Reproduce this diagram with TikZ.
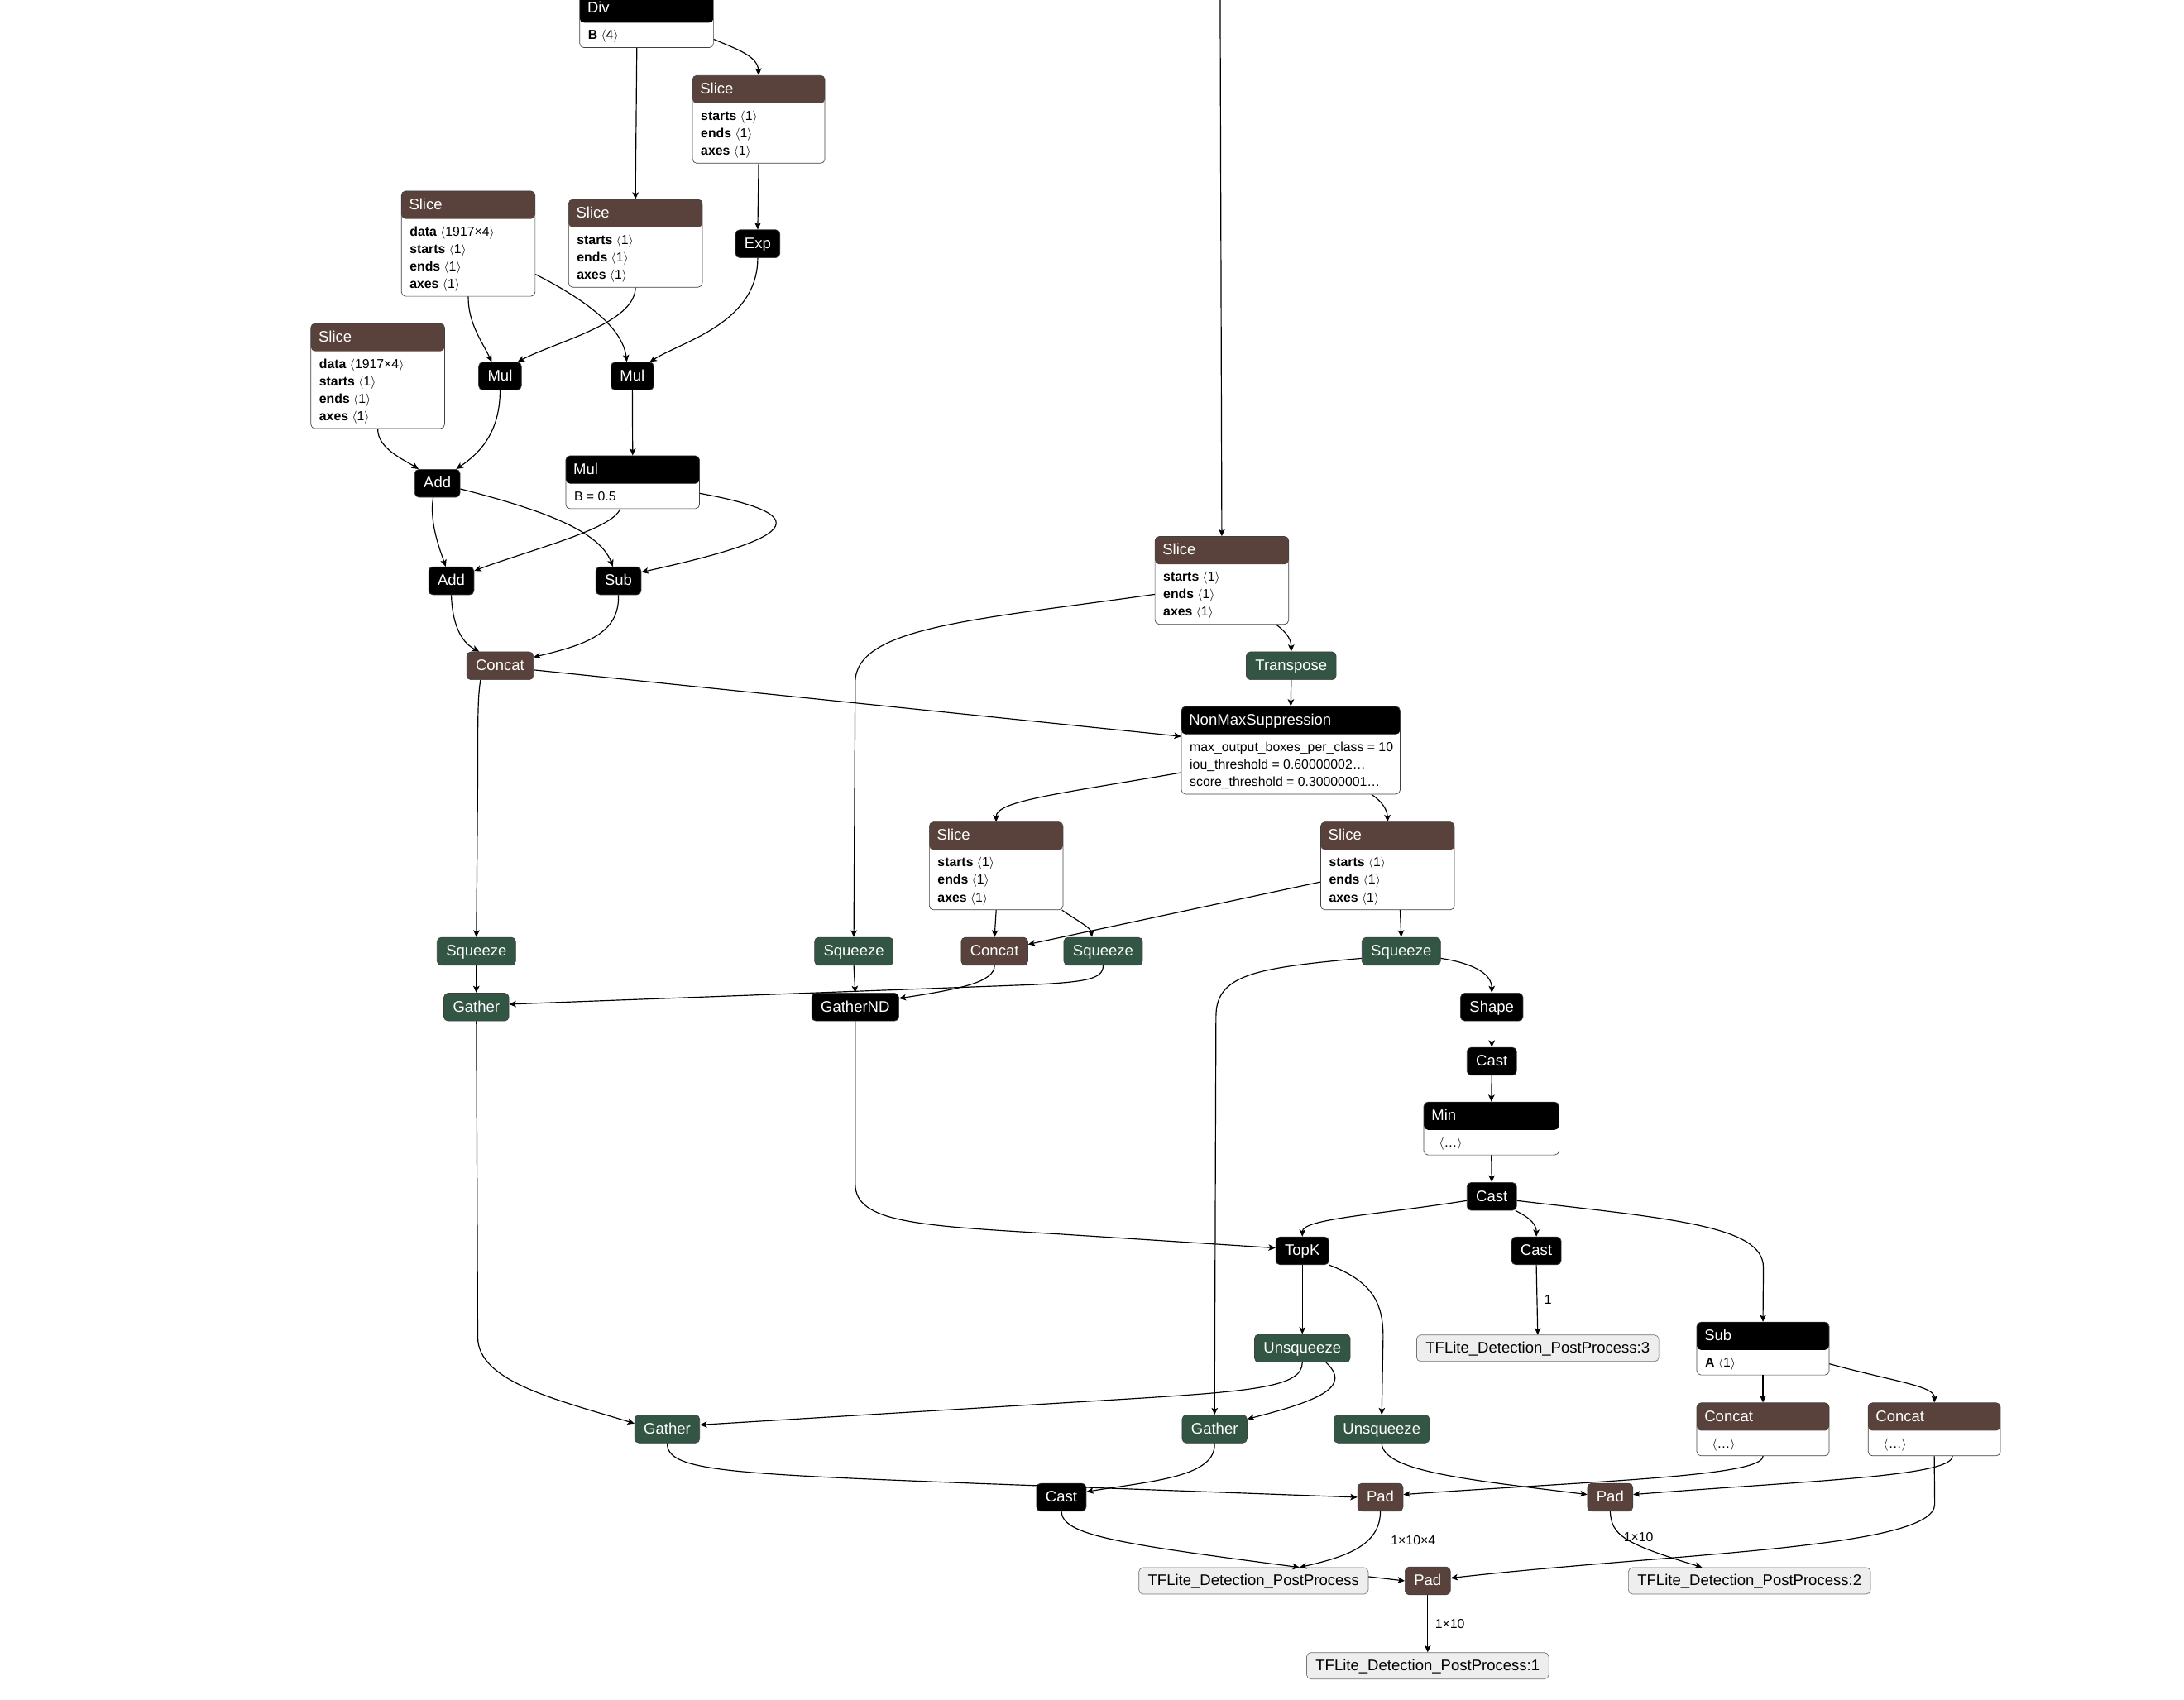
\documentclass[tikz,border=0pt]{standalone}
\usepackage{fontspec}
\setmainfont{Liberation Sans}
\usetikzlibrary{arrows.meta,positioning}
\definecolor{tensorc}{RGB}{89,66,59}
\definecolor{transformc}{RGB}{51,85,68}
\definecolor{ioc}{RGB}{238,238,238}
\newcommand{\titlefont}{\fontsize{11}{13}\selectfont}
\newcommand{\attrfont}{\fontsize{9.4}{11}\selectfont}
\newcommand{\tens}[2]{\textbf{#1}\ \ensuremath{\langle}#2\ensuremath{\rangle}}
\newcommand{\more}{\hspace{5pt}\ensuremath{\langle}…\ensuremath{\rangle}}
\tikzset{
  op/.style={draw=black!75, fill=black, text=white, rounded corners=3pt, font=\titlefont,
    minimum height=20pt, inner xsep=6.5pt, inner ysep=0pt, text height=8pt, text depth=1.2pt},
  tensorop/.style={op, fill=tensorc},
  transformop/.style={op, fill=transformc},
  io/.style={op, fill=ioc, text=black, draw=black!55, minimum height=19pt},
  opbox/.style={draw=black!75, fill=white, rounded corners=3pt, inner sep=0pt, anchor=north west,
    path picture={\fill[#1] (path picture bounding box.north west) rectangle ([yshift=-20pt]path picture bounding box.north east);}},
  boxtitle/.style={text=white, font=\titlefont, inner sep=0pt, text height=8pt, text depth=1.2pt},
  attr/.style={font=\attrfont, inner sep=0pt, text height=6.8pt, text depth=1pt},
  lbl/.style={font=\attrfont, inner sep=2pt},
  flow/.style={draw, line width=0.7pt, -{Stealth[length=5pt,width=4.5pt,inset=1.2pt]}},
}
% box with coloured header: name, north west corner, width, rows, colour, title
\newcommand{\opblock}[6]{%
  \node[opbox=#5, minimum width=#3pt, minimum height={25.5pt+12.5pt*#4}] (#1) at (#2) {};
  \node[boxtitle, anchor=west] at ([xshift=5.5pt,yshift=-10pt]#1.north west) {#6};
}
\newcommand{\attrlist}[2]{%
  \foreach \a [count=\i] in {#2}
    \node[attr, anchor=west] at ([xshift=6pt,yshift={-17pt-12.5pt*\i}]#1.north west) {\a};
}
\begin{document}
\begin{tikzpicture}[x=1pt,y=-1pt]
\path[use as bounding box, fill=white] (0,0) rectangle (1568,1220);
% Boxes
\opblock{div}{416,-4}{96}{1}{black}{Div}
\attrlist{div}{\tens{B}{4}}
\opblock{sliceA}{497,54}{95}{3}{tensorc}{Slice}
\attrlist{sliceA}{\tens{starts}{1},\tens{ends}{1},\tens{axes}{1}}
\opblock{sliceB}{288,137}{96}{4}{tensorc}{Slice}
\attrlist{sliceB}{\tens{data}{1917×4},\tens{starts}{1},\tens{ends}{1},\tens{axes}{1}}
\opblock{sliceC}{408,143}{96}{3}{tensorc}{Slice}
\attrlist{sliceC}{\tens{starts}{1},\tens{ends}{1},\tens{axes}{1}}
\opblock{sliceD}{223,232}{96}{4}{tensorc}{Slice}
\attrlist{sliceD}{\tens{data}{1917×4},\tens{starts}{1},\tens{ends}{1},\tens{axes}{1}}
\opblock{mulB}{406,327}{96}{1}{black}{Mul}
\attrlist{mulB}{B = 0.5}
\opblock{sliceE}{829,385}{96}{3}{tensorc}{Slice}
\attrlist{sliceE}{\tens{starts}{1},\tens{ends}{1},\tens{axes}{1}}
\opblock{nms}{848,507}{157}{3}{black}{NonMaxSuppression}
\attrlist{nms}{max\_output\_boxes\_per\_class = 10,iou\_threshold = 0.60000002…,score\_threshold = 0.30000001…}
\opblock{sliceF}{667,590}{96}{3}{tensorc}{Slice}
\attrlist{sliceF}{\tens{starts}{1},\tens{ends}{1},\tens{axes}{1}}
\opblock{sliceG}{948,590}{96}{3}{tensorc}{Slice}
\attrlist{sliceG}{\tens{starts}{1},\tens{ends}{1},\tens{axes}{1}}
\opblock{minop}{1022,791}{97}{1}{black}{Min}
\attrlist{minop}{\more}
\opblock{sub2}{1218,949}{95}{1}{black}{Sub}
\attrlist{sub2}{\tens{A}{1}}
\opblock{concat3}{1218,1007}{95}{1}{tensorc}{Concat}
\attrlist{concat3}{\more}
\opblock{concat4}{1341,1007}{95}{1}{tensorc}{Concat}
\attrlist{concat4}{\more}
% Nodes
\node[op] (exp) at (544,175) {Exp};
\node[op] (mul1) at (359,270) {Mul};
\node[op] (mul2) at (454,270) {Mul};
\node[op] (add1) at (314,347) {Add};
\node[op] (add2) at (324,417) {Add};
\node[op] (sub1) at (444,417) {Sub};
\node[tensorop] (concat1) at (359,478) {Concat};
\node[transformop] (transpose) at (927,478) {Transpose};
\node[transformop] (squeeze1) at (342,683) {Squeeze};
\node[transformop] (squeeze2) at (613,683) {Squeeze};
\node[tensorop] (concat2) at (714,683) {Concat};
\node[transformop] (squeeze3) at (792,683) {Squeeze};
\node[transformop] (squeeze4) at (1006,683) {Squeeze};
\node[transformop] (gather1) at (342,723) {Gather};
\node[op] (gathernd) at (614,723) {GatherND};
\node[op] (shape) at (1071,723) {Shape};
\node[op] (cast1) at (1071,762) {Cast};
\node[op] (cast2) at (1071,859) {Cast};
\node[op] (topk) at (935,898) {TopK};
\node[op] (cast3) at (1103,898) {Cast};
\node[transformop] (unsq1) at (935,968) {Unsqueeze};
\node[io] (out3) at (1104,968) {TFLite\_Detection\_PostProcess:3};
\node[transformop] (gather2) at (479,1026) {Gather};
\node[transformop] (gather3) at (872,1026) {Gather};
\node[transformop] (unsq2) at (992,1026) {Unsqueeze};
\node[op] (cast4) at (762,1075) {Cast};
\node[tensorop] (pad1) at (991,1075) {Pad};
\node[tensorop] (pad2) at (1156,1075) {Pad};
\node[io] (out0) at (900,1135) {TFLite\_Detection\_PostProcess};
\node[tensorop] (pad3) at (1025,1135) {Pad};
\node[io] (out2) at (1256,1135) {TFLite\_Detection\_PostProcess:2};
\node[io] (out1) at (1025,1196) {TFLite\_Detection\_PostProcess:1};
\coordinate (in0) at (876,-5);
% Edges
\draw[flow] ([xshift=-7pt]div.south) -- (sliceC.north);
\draw[flow] ([yshift=-13pt]div.east) .. controls (528,35) and (544,40) .. (sliceA.north);
\draw[flow] (sliceA.south) -- (exp.north);
\draw[flow] (sliceB.south) .. controls (336,232) and (346,245) .. ([xshift=-6pt]mul1.north);
\draw[flow] ([yshift=-22pt]sliceB.east) .. controls (420,215) and (447,235) .. ([xshift=-4pt]mul2.north);
\draw[flow] (sliceC.south) .. controls (456,232) and (400,245) .. ([xshift=-3pt]mul1.north east);
\draw[flow] (exp.south) .. controls (544,232) and (490,245) .. ([xshift=-3pt]mul2.north east);
\draw[flow] (sliceD.south) .. controls (271,322) and (290,330) .. ([xshift=3pt]add1.north west);
\draw[flow] (mul1.south) .. controls (359,310) and (345,325) .. ([xshift=-3pt]add1.north east);
\draw[flow] (mul2.south) -- (mulB.north);
\draw[flow] ([xshift=-3pt]add1.south) .. controls (308,375) and (316,395) .. ([xshift=-4pt]add2.north);
\draw[flow] ([yshift=-4pt]add1.east) .. controls (385,365) and (430,380) .. ([xshift=-4pt]sub1.north);
\draw[flow] ([xshift=-9pt]mulB.south) .. controls (440,380) and (380,395) .. ([yshift=-3pt]add2.north east);
\draw[flow] ([yshift=-8pt]mulB.east) .. controls (600,372) and (555,390) .. ([yshift=-4pt]sub1.north east);
\draw[flow] (add2.south) .. controls (325,452) and (333,462) .. ([xshift=-15pt]concat1.north);
\draw[flow] (sub1.south) .. controls (445,455) and (420,463) .. ([yshift=-4pt]concat1.north east);
\draw[flow] ([yshift=-3pt]concat1.east) -- ([yshift=10pt]nms.west);
\draw[flow] ([xshift=-14pt]concat1.south) .. controls (343,500) and (343,515) .. (343,560) -- (squeeze1.north);
\draw[flow] (in0) -- (sliceE.north);
\draw[flow] ([yshift=-10pt]sliceE.west) .. controls (700,445) and (614,450) .. (614,490) -- (squeeze2.north);
\draw[flow] ([xshift=39pt]sliceE.south) .. controls (925,455) and (927,460) .. (transpose.north);
\draw[flow] (transpose.south) -- (nms.north);
\draw[flow] ([yshift=-16pt]nms.west) .. controls (760,570) and (715,575) .. (sliceF.north);
\draw[flow] ([xshift=58pt]nms.south) .. controls (993,576) and (996,582) .. (sliceG.north);
\draw[flow] (sliceF.south) -- (concat2.north);
\draw[flow] ([xshift=-1pt]sliceF.south east) .. controls (775,662) and (783,666) .. ([xshift=-8pt]squeeze3.north);
\draw[flow] ([yshift=-11.5pt]sliceG.west) -- ([yshift=5pt]concat2.east);
\draw[flow] ([xshift=9pt]sliceG.south) -- (squeeze4.north);
\draw[flow] (squeeze1.south) -- (gather1.north);
\draw[flow] (squeeze3.south) .. controls (792,703) and (780,705) .. (740,707) -- ([yshift=2pt]gather1.east);
\draw[flow] (concat2.south) .. controls (714,705) and (690,710) .. ([yshift=-4pt]gathernd.north east);
\draw[flow] (squeeze2.south) -- (gathernd.north);
\draw[flow] ([yshift=-5pt]squeeze4.east) .. controls (1060,692) and (1071,700) .. (shape.north);
\draw[flow] ([yshift=-5pt]squeeze4.west) .. controls (900,695) and (873,700) .. (873,730) -- (gather3.north);
\draw[flow] (shape.south) -- (cast1.north);
\draw[flow] (cast1.south) -- (minop.north);
\draw[flow] (minop.south) -- (cast2.north);
\draw[flow] ([yshift=-3pt]cast2.west) .. controls (990,872) and (935,875) .. (topk.north);
\draw[flow] ([xshift=-1pt]cast2.south east) .. controls (1100,875) and (1103,880) .. (cast3.north);
\draw[flow] ([yshift=-3pt]cast2.east) .. controls (1200,875) and (1266,880) .. (1266,910) -- (sub2.north);
\draw[flow] (gathernd.south) -- (614,850) .. controls (614,878) and (660,880) .. (760,886) -- ([yshift=2pt]topk.west);
\draw[flow] (topk.south) -- (unsq1.north);
\draw[flow] (topk.south east) .. controls (985,920) and (993,935) .. (993,960) -- (unsq2.north);
\draw[flow] (cast3.south) -- node[lbl, right, xshift=3pt] {1} (out3.north);
\draw[flow] (unsq1.south) .. controls (935,996) and (900,999) .. (800,1005) -- ([yshift=3pt]gather2.east);
\draw[flow] ([xshift=17pt]unsq1.south) .. controls (970,995) and (950,1005) .. ([yshift=-3pt]gather3.north east);
\draw[flow] (gather1.south) -- (343,960) .. controls (343,992) and (400,1005) .. ([yshift=4pt]gather2.west);
\draw[flow] (sub2.south) -- (concat3.north);
\draw[flow] ([yshift=-11pt]sub2.east) .. controls (1360,992) and (1389,995) .. (concat4.north);
\draw[flow] (gather2.south) .. controls (479,1056) and (520,1058) .. (700,1065) -- (pad1.west);
\draw[flow] (gather3.south) .. controls (873,1060) and (830,1063) .. ([yshift=4pt]cast4.east);
\draw[flow] (concat3.south) .. controls (1266,1060) and (1150,1063) .. ([yshift=2pt]pad1.east);
\draw[flow] (unsq2.south) .. controls (993,1056) and (1050,1062) .. ([yshift=2pt]pad2.west);
\draw[flow] ([xshift=13pt]concat4.south) .. controls (1402,1060) and (1300,1063) .. ([yshift=2pt]pad2.east);
\draw[flow] (concat4.south) -- (1389,1080) .. controls (1389,1112) and (1200,1115) .. ([yshift=2pt]pad3.east);
\draw[flow] (cast4.south) .. controls (763,1102) and (800,1108) .. ([xshift=33pt]out0.north);
\draw[flow] (pad1.south) .. controls (991,1110) and (965,1118) .. node[lbl, pos=0.35, anchor=west, xshift=14pt] {1×10×4} ([xshift=33pt]out0.north);
\draw[flow] ([yshift=3pt]out0.east) -- (pad3.west);
\draw[flow] (pad2.south) .. controls (1157,1102) and (1165,1108) .. node[lbl, pos=0.45, anchor=west, xshift=-2pt] {1×10} ([xshift=-34pt]out2.north);
\draw[flow] (pad3.south) -- node[lbl, right, xshift=3pt] {1×10} (out1.north);
\end{tikzpicture}
\end{document}
